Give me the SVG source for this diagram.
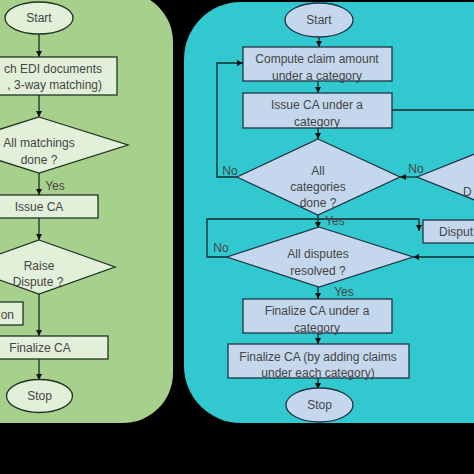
<svg xmlns="http://www.w3.org/2000/svg" width="474" height="474" viewBox="0 0 474 474">
<style>
text{font-family:"Liberation Sans",Arial,sans-serif;font-size:12px;fill:#454545;text-anchor:middle}
.g{fill:#e2efd9;stroke:#1e3322;stroke-width:1.3}
.b{fill:#c4d7ec;stroke:#1f3447;stroke-width:1.3}
.c{fill:none;stroke:#1a2a2a;stroke-width:1.3}
.ca{fill:none;stroke:#1a2a2a;stroke-width:1.3;marker-end:url(#ah)}
</style>
<defs>
<marker id="ah" viewBox="0 0 10 10" refX="10" refY="5" markerWidth="6" markerHeight="6" markerUnits="userSpaceOnUse" orient="auto">
<path d="M0,0 L10,5 L0,10 z" fill="#111"/>
</marker>
</defs>
<rect x="0" y="0" width="474" height="474" fill="#000"/>
<g id="panel-left"><rect x="-100" y="-8" width="273" height="431" rx="50" ry="50" fill="#a8d08d"/></g>
<g id="panel-right"><rect x="184" y="2" width="400" height="421" rx="57" ry="57" fill="#31c9cf"/></g>

<g id="connectors">
<path class="ca" d="M39,34 V57"/>
<path class="ca" d="M39,95 V117"/>
<path class="ca" d="M39,173 V195"/>
<path class="ca" d="M39,218 V240"/>
<path class="ca" d="M39,294 V336"/>
<path class="ca" d="M39,359 V380"/>
<path class="ca" d="M319,37 V47"/>
<path class="ca" d="M318,81 V93"/>
<path class="ca" d="M318,128 V139"/>
<path class="c" d="M392,110 H512 V139"/>
<path class="ca" d="M237,177 H217 V63 H243"/>
<path class="ca" d="M417,177 H400"/>
<path class="ca" d="M318,215 V228"/>
<path class="ca" d="M227,257 H207 V219 H419 V231"/>
<path class="ca" d="M480,257 H413"/>
<path class="ca" d="M318,287 V299"/>
<path class="ca" d="M318,333 V344"/>
<path class="ca" d="M318,378 V389"/>
<text x="55" y="190">Yes</text>
<text x="230" y="175">No</text>
<text x="416" y="173">No</text>
<text x="335" y="225">Yes</text>
<text x="221" y="252">No</text>
<text x="344" y="296">Yes</text>
</g>

<g id="l-start"><ellipse class="g" cx="39" cy="18" rx="34" ry="16"/><text x="39" y="22">Start</text></g>
<g id="l-fetch"><rect class="g" x="-40" y="57" width="157" height="38"/><text x="102" y="73" style="text-anchor:end">ch EDI documents</text><text x="102" y="89" style="text-anchor:end">, 3-way matching)</text></g>
<g id="l-match"><polygon class="g" points="39,117 128,145 39,173 -50,145"/><text x="39" y="147">All matchings</text><text x="39" y="164">done ?</text></g>
<g id="l-issue"><rect class="g" x="-40" y="195" width="138" height="23"/><text x="39" y="211">Issue CA</text></g>
<g id="l-dispute"><polygon class="g" points="39,240 115,267 39,294 -37,267"/><text x="39" y="270">Raise</text><text x="38" y="286">Dispute ?</text></g>
<g id="l-on"><rect class="g" x="-40" y="302" width="63" height="23"/><text x="14" y="319" style="text-anchor:end">on</text></g>
<g id="l-final"><rect class="g" x="-40" y="336" width="148" height="23"/><text x="40" y="352">Finalize CA</text></g>
<g id="l-stop"><ellipse class="g" cx="39.5" cy="396" rx="33" ry="16.5"/><text x="39.5" y="400">Stop</text></g>

<g id="r-start"><ellipse class="b" cx="319" cy="20" rx="34" ry="17"/><text x="319" y="24">Start</text></g>
<g id="r-compute"><rect class="b" x="243" y="47" width="149" height="34"/><text x="317" y="63">Compute claim amount</text><text x="317" y="80">under a category</text></g>
<g id="r-issue"><rect class="b" x="243" y="93" width="149" height="35"/><text x="317" y="109">Issue CA under a</text><text x="317" y="126">category</text></g>
<g id="r-allcat"><polygon class="b" points="318,139 400,177 318,215 237,177"/><text x="318" y="175">All</text><text x="318" y="191">categories</text><text x="318" y="207">done ?</text></g>
<g id="r-dq"><polygon class="b" points="417,177 512,139 607,177 512,215"/><text x="463" y="196" style="text-anchor:start">D</text></g>
<g id="r-disp"><rect class="b" x="423" y="220" width="80" height="23"/><text x="439" y="236" style="text-anchor:start">Disput</text></g>
<g id="r-alldisp"><polygon class="b" points="319,227 413,257 319,287 227,257"/><text x="318" y="258">All disputes</text><text x="318" y="275">resolved ?</text></g>
<g id="r-finalcat"><rect class="b" x="243" y="299" width="149" height="34"/><text x="317" y="315">Finalize CA under a</text><text x="317" y="332">category</text></g>
<g id="r-final"><rect class="b" x="228" y="344" width="181" height="34"/><text x="318" y="361">Finalize CA (by adding claims</text><text x="318" y="377">under each category)</text></g>
<g id="r-stop"><ellipse class="b" cx="319.5" cy="405" rx="33.5" ry="17"/><text x="319.5" y="409">Stop</text></g>
</svg>
